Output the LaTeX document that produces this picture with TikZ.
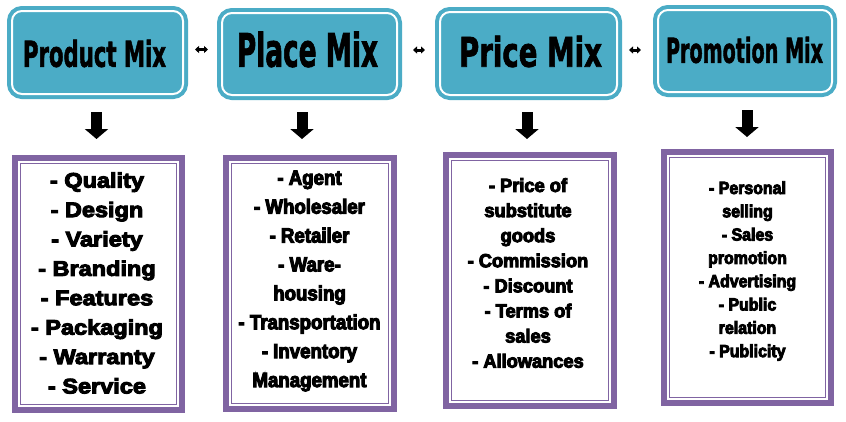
\documentclass[tikz,border=0pt]{standalone}
\usepackage{fontspec}
\usetikzlibrary{arrows.meta,calc}
\setmainfont{Liberation Sans}
\newfontfamily\headfont[FakeBold=2]{DejaVu Sans Bold}
\newfontfamily\bodyA[FakeBold=5,FakeStretch=1.12]{Liberation Sans Bold}
\newfontfamily\bodyB[FakeBold=5,FakeStretch=0.91]{Liberation Sans Bold}
\newfontfamily\bodyC[FakeBold=5,FakeStretch=0.96]{Liberation Sans Bold}
\newfontfamily\bodyD[FakeBold=5,FakeStretch=0.91]{Liberation Sans Bold}
\definecolor{mixteal}{HTML}{4BACC6}
\definecolor{mixpurple}{HTML}{8064A2}
\begin{document}
\begin{tikzpicture}[x=1pt,y=-1pt,
  mixbox/.style={rectangle, rounded corners=10pt, fill=mixteal, draw=mixteal,
    line width=4pt, double=white, double distance=2pt, inner sep=0pt},
  headtxt/.style={inner sep=0pt, text=black},
  listbox/.style={rectangle, draw=mixpurple, line width=6pt, fill=white,
    inner sep=0pt, outer sep=0pt},
  thinframe/.style={draw=mixpurple, line width=1.6pt},
  listtxt/.style={align=center, inner sep=0pt, text=black},
  downarrow/.style={draw=black, line width=11pt, -{Triangle[width=23pt,length=10pt]}},
  dblarrow/.style={draw=black, line width=3pt,
    {Triangle[width=7pt,length=4pt]}-{Triangle[width=7pt,length=4pt]}}
]
\useasboundingbox (0,0) rectangle (846,421);
\fill[white] (0,0) rectangle (846,421);

% top boxes
\node[mixbox, minimum width=171pt, minimum height=83pt] (b1) at (97.5,52.5) {};
\node[mixbox, minimum width=175pt, minimum height=82pt] (b2) at (309.5,54) {};
\node[mixbox, minimum width=177pt, minimum height=83pt] (b3) at (528.5,53.5) {};
\node[mixbox, minimum width=174pt, minimum height=82pt] (b4) at (745,51) {};

\node[headtxt] (t1) at (94.5,53.5) {\resizebox{143pt}{27pt}{\headfont Product Mix}};
\node[headtxt] (t2) at (307.5,49.5) {\resizebox{141pt}{35pt}{\headfont Place Mix}};
\node[headtxt] (t3) at (530.5,51.5) {\resizebox{143pt}{31pt}{\headfont Price Mix}};
\node[headtxt] (t4) at (744.5,50) {\resizebox{157pt}{26pt}{\headfont Promotion Mix}};

% double arrows between top boxes
\coordinate (d1a) at (195,49.5); \coordinate (d1b) at (208,49.5);
\coordinate (d2a) at (413,50);   \coordinate (d2b) at (425,50);
\coordinate (d3a) at (629,50);   \coordinate (d3b) at (641,50);
\draw[dblarrow] (d1a) -- (d1b);
\draw[dblarrow] (d2a) -- (d2b);
\draw[dblarrow] (d3a) -- (d3b);

% list boxes
\node[listbox, minimum width=167pt, minimum height=252pt] (l1) at (98.5,284) {};
\node[listbox, minimum width=168pt, minimum height=251pt] (l2) at (310,283.5) {};
\node[listbox, minimum width=168pt, minimum height=251pt] (l3) at (530,280.5) {};
\node[listbox, minimum width=167pt, minimum height=251pt] (l4) at (747.5,277.5) {};
\foreach \nd in {l1,l2,l3,l4}{
  \draw[thinframe] ($(\nd.north west)+(5.5,5.5)$) rectangle ($(\nd.south east)+(-5.5,-5.5)$);
}

% down arrows
\coordinate (a1s) at (96.5,112); \coordinate (a1e) at (96.5,139);
\coordinate (a2s) at (302,112);  \coordinate (a2e) at (302,139);
\coordinate (a3s) at (527,112);  \coordinate (a3e) at (527,139);
\coordinate (a4s) at (747,110);  \coordinate (a4e) at (747,137);
\draw[downarrow] (a1s) -- (a1e);
\draw[downarrow] (a2s) -- (a2e);
\draw[downarrow] (a3s) -- (a3e);
\draw[downarrow] (a4s) -- (a4e);

% list texts
\node[listtxt, font={\fontsize{21pt}{29.4pt}\bodyA}] (x1) at (97,283)
 {- Quality\\- Design\\- Variety\\- Branding\\- Features\\- Packaging\\- Warranty\\- Service};
\node[listtxt, font={\fontsize{20.5pt}{28.9pt}\bodyB}] (x2) at (309.5,281)
 {- Agent\\- Wholesaler\\- Retailer\\- Ware-\\housing\\- Transportation\\- Inventory\\Management};
\node[listtxt, font={\fontsize{19pt}{25.1pt}\bodyC}] (x3) at (528,273)
 {- Price of\\substitute\\goods\\- Commission\\- Discount\\- Terms of\\sales\\- Allowances};
\node[listtxt, font={\fontsize{17.5pt}{23.3pt}\bodyD}] (x4) at (747.5,271)
 {- Personal\\selling\\- Sales\\promotion\\- Advertising\\- Public\\relation\\- Publicity};
\end{tikzpicture}
\end{document}
